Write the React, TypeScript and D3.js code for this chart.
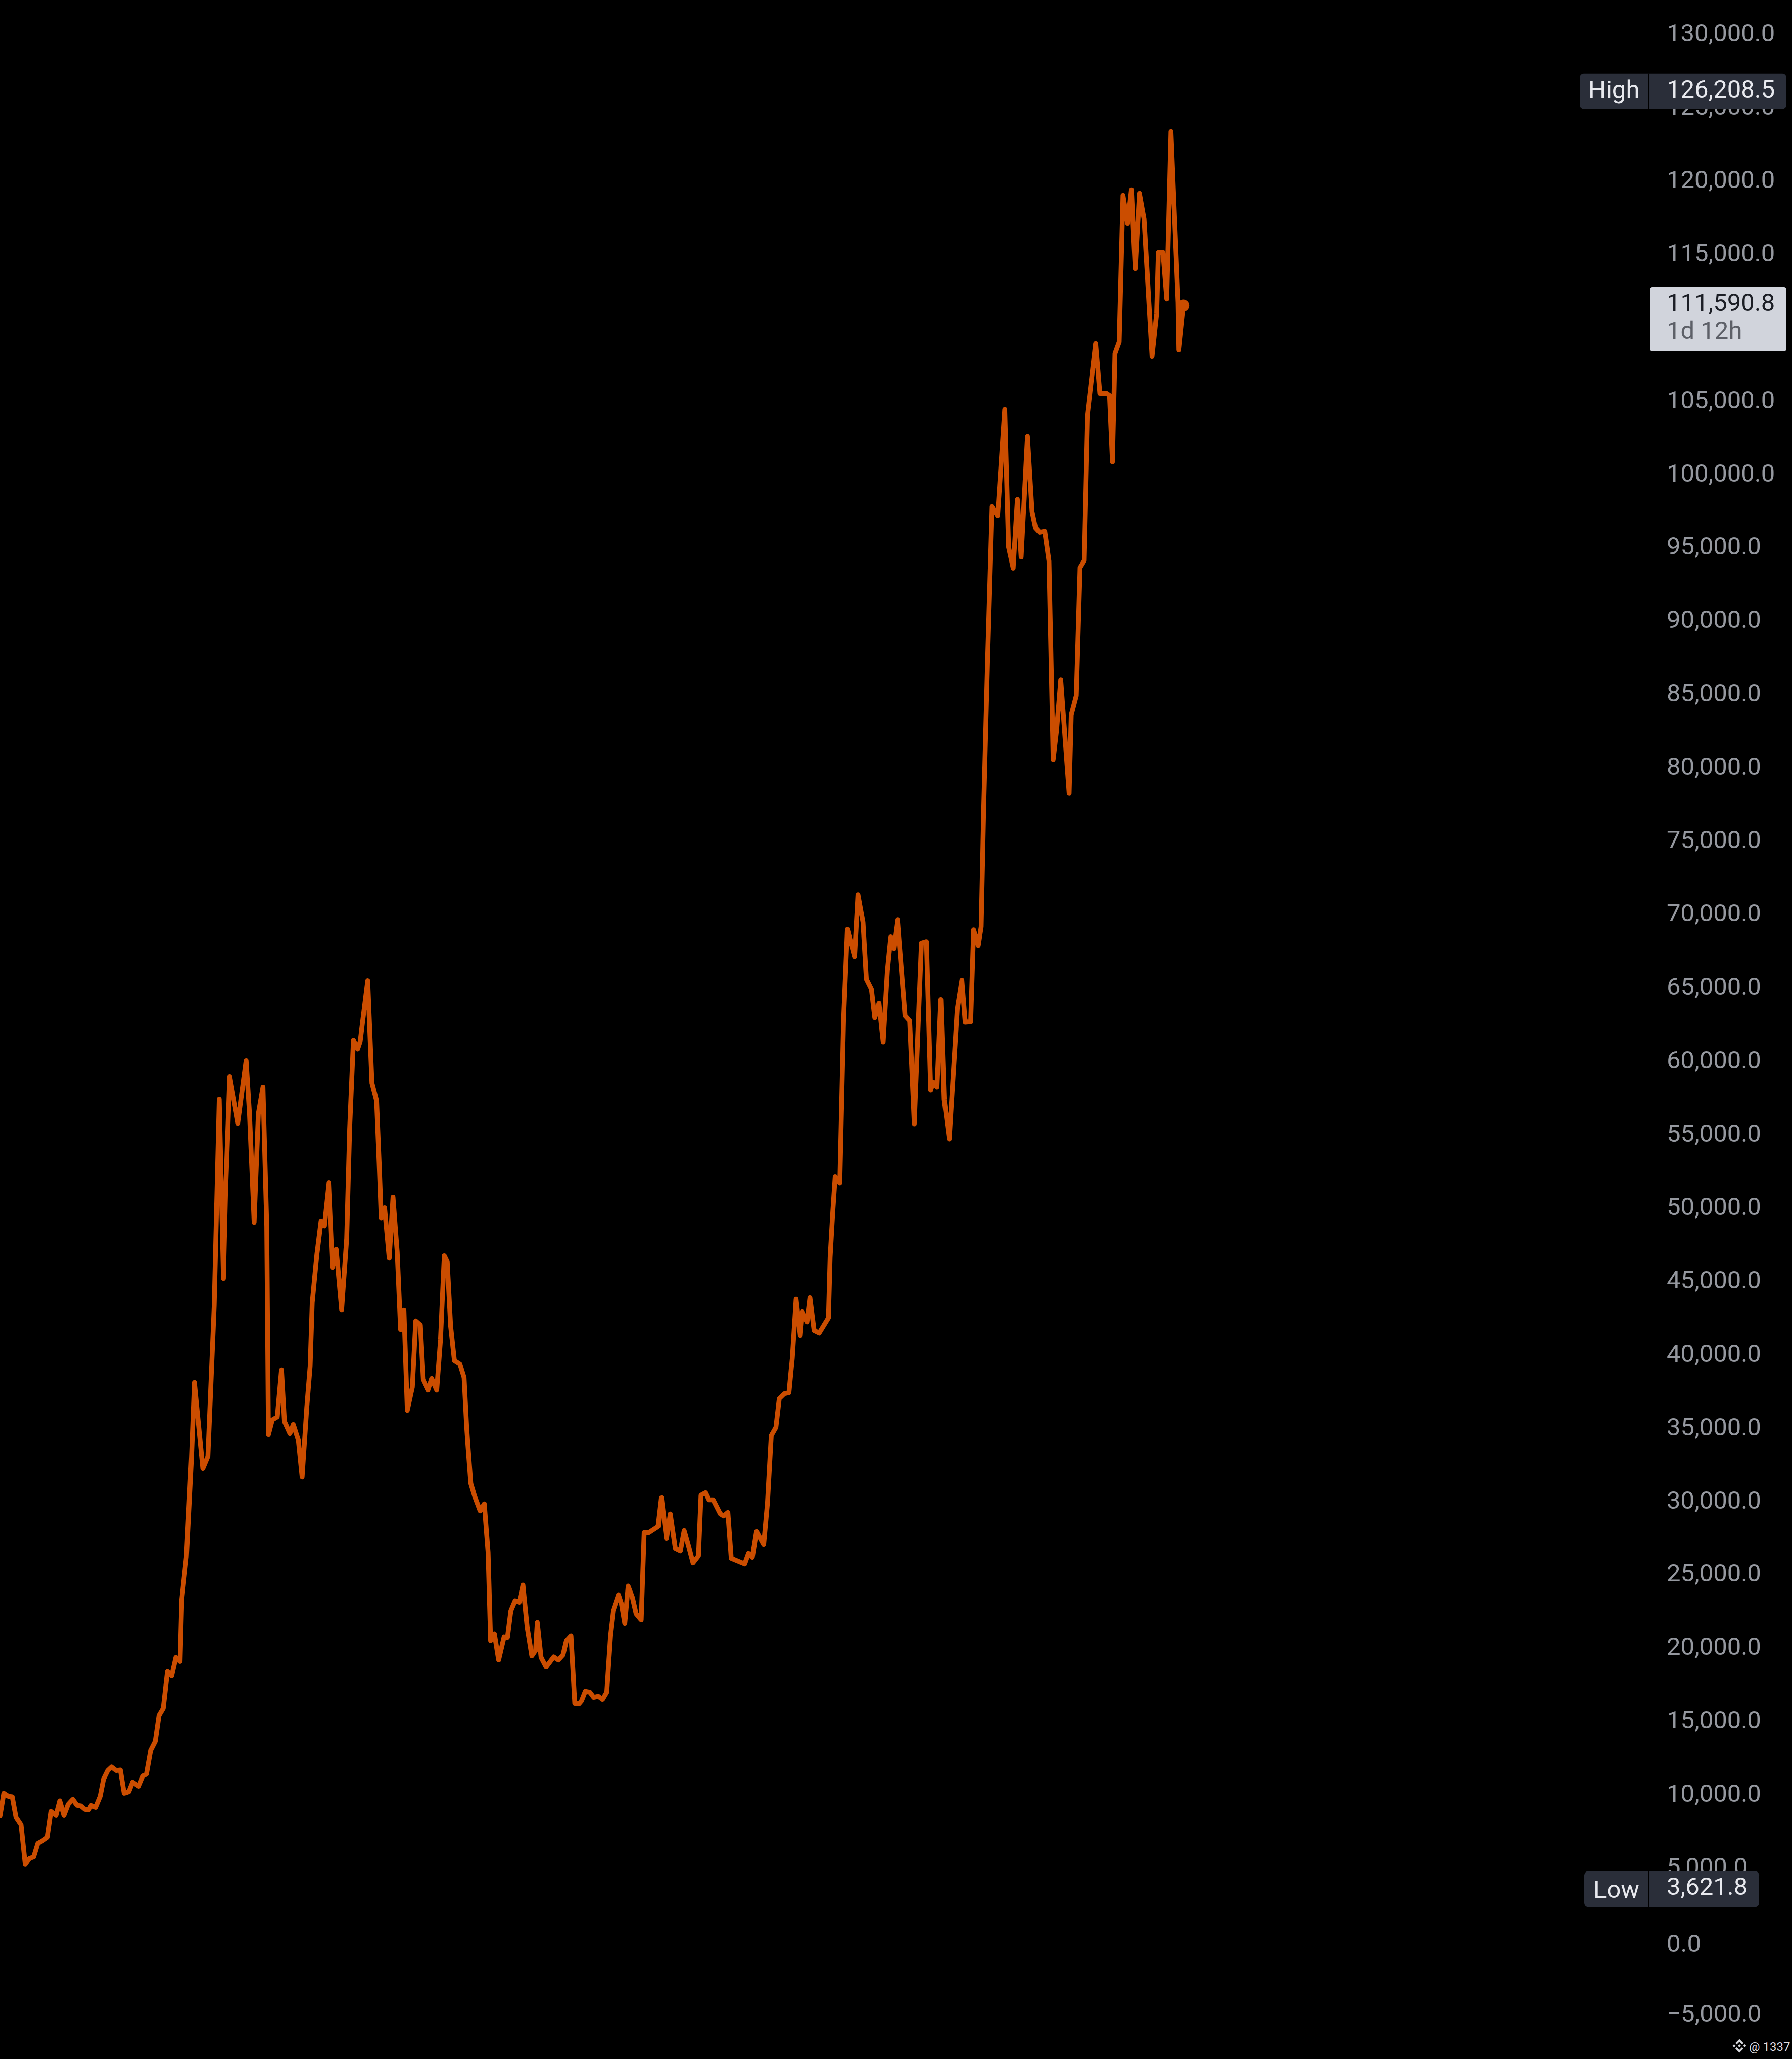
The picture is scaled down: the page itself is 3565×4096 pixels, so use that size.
import React from "react";
import * as d3 from "d3";

const WIDTH = 3565;
const HEIGHT = 4096;

// 110,000.0 sits fully behind the last-price tag in the reference, so it is not listed.
const tickValues = [130000,125000,120000,115000,105000,100000,95000,90000,85000,80000,75000,70000,65000,60000,55000,50000,45000,40000,35000,30000,25000,20000,15000,10000,5000,0,-5000];

const days = [0,9,20,29,38,50,60,70,80,90,101,113,122,134,143,153,163,174,184,193,203,212,218,228,239,247,257,266,277,287,296,307,316,331,341,350,360,371,380,390,400,410,420,430,434,445,457,464,484,496,511,523,533,538,548,568,588,596,607,617,628,637,641,650,662,672,679,692,700,712,721,732,740,745,756,766,774,785,794,803,816,828,835,844,854,860,878,888,899,905,910,918,929,938,948,956,964,972,984,992,1003,1010,1022,1031,1043,1052,1061,1068,1076,1085,1098,1108,1114,1117,1124,1133,1146,1156,1165,1171,1180,1190,1203,1211,1219,1229,1240,1249,1259,1270,1279,1283,1292,1304,1322,1333,1344,1352,1363,1372,1382,1388,1397,1408,1417,1428,1438,1448,1457,1464,1477,1484,1492,1500,1510,1519,1531,1538,1549,1571,1579,1591,1600,1612,1624,1633,1644,1654,1667,1673,1684,1692,1703,1720,1728,1738,1746,1778,1787,1796,1806,1823,1832,1841,1852,1860,1872,1883,1891,1900,1910,1915,1927,1934,1944,1956,1978,1982,1988,1994,2005,2014,2023,2040,2048,2060,2068,2080,2088,2098,2108,2118,2126,2134,2143,2161,2172,2183,2200,2212,2222,2228,2237,2246,2254,2266,2285,2296,2304,2317,2324,2335,2342,2348,2357,2368,2382,2399,2408,2419,2429,2438,2453,2464,2472,2482,2494,2504,2514,2522,2532,2552,2557,2569,2578,2588,2596,2616,2626,2642,2649,2656,2662,2672,2681,2692,2701,2710,2720,2731,2750,2761,2765,2776,2785,2795,2812,2814,2825];

const closes = [8391,9933,9727,9693,8289,7775,5069,5480,5583,6508,6679,6919,8700,8426,9419,8426,9179,9522,9111,9076,8837,8802,9111,8974,9727,10892,11474,11714,11474,11508,9933,10035,10686,10412,11097,11234,12844,13460,15241,15721,18221,17913,19180,18906,23119,26030,32777,37915,32058,32880,43155,57232,45005,50793,58773,55588,59869,56239,48841,56239,58054,48601,34387,35380,35586,38771,35278,34456,35072,34010,31476,36202,39011,43361,46649,48943,48601,51546,45758,47025,42881,47745,55177,61273,60657,61171,65315,58328,57129,52985,49149,49834,46409,50553,46820,41545,42847,36031,37607,42128,41854,38120,37401,38189,37401,40860,46580,46169,41785,39422,39182,38257,34969,33702,31031,30174,29181,29661,26338,20310,20790,19009,20584,20550,22365,23050,22948,24112,21235,19283,19660,21578,19180,18529,19214,19009,19351,20310,20653,16063,16029,16235,16885,16817,16474,16543,16337,16817,20653,22365,23461,22845,21509,24044,23290,22160,21749,27708,27708,28119,30072,27297,28976,26612,26441,27845,26715,25619,26099,30243,30414,29935,29935,28976,28839,29078,25927,25551,26270,25996,27777,26886,29729,34319,34867,36819,37161,37230,39593,43600,41134,42744,42059,43703,41477,41306,42333,46477,49423,51957,51512,62678,68808,66959,71172,69288,65418,64733,62780,63774,61136,66000,68295,67507,69459,62917,62575,55554,67884,67986,57848,58396,58054,64013,57198,54526,63363,65349,62472,62506,68774,67712,68980,77097,86927,97647,96996,104257,94873,93434,98126,94188,102408,97270,96174,95866,95934,93914,80385,82337,85831,78090,83433,84735,93468,93948,103812,108744,105353,105353,105216,100661,108059,108847,118848,116930,119224,113847,118985,117238,107853,110799,114943,114943,111792,123197,111552,108299,111347];

const highValue = 126208.5;
const lowValue = 3621.8;
const lastPrice = 111590.8;
const countdown = "1d 12h";
const credit = "@ 1337";

const LINE = "#cb4d00";
const TICK = "#95989f";
const TAG = "#2a2e39";
const TAG_TEXT = "#e8e9ee";
const FONT_SIZE = 49;

const x = d3.scaleLinear().domain([0, 2830]).range([0, 2358.33]);
const y = d3.scaleLinear().domain([-5000, 130000]).range([4003, 63]);
const fmt = d3.format(",.1f");
const pathD = d3.line<number>().x((_, i) => x(days[i])).y((d) => y(d))(closes) || "";

const labelNudge = (v: number) => (v === 0 ? 7 : 0);
const FONT = "Roboto, sans-serif";

function Diamond({ cx, cy }: { cx: number; cy: number }) {
  return (
    <g transform={`translate(${cx},${cy})`} fill="#d6d7dc">
      <path d="M0,-13.5 L8,-5.5 L5.2,-2.8 L0,-8 L-5.2,-2.8 L-8,-5.5 Z" />
      <path d="M0,13.5 L8,5.5 L5.2,2.8 L0,8 L-5.2,2.8 L-8,5.5 Z" />
      <path d="M-13.5,0 L-10.5,-3 L-7.5,0 L-10.5,3 Z" />
      <path d="M13.5,0 L10.5,-3 L7.5,0 L10.5,3 Z" />
      <path d="M0,-3 L3,0 L0,3 L-3,0 Z" />
    </g>
  );
}

export default function App() {
  const lastX = x(days[days.length - 1]);
  const lastY = y(closes[closes.length - 1]);
  return (
    <svg
      width={WIDTH}
      height={HEIGHT}
      viewBox={`0 0 ${WIDTH} ${HEIGHT}`}
      style={{ position: "absolute", left: 0, top: 0, background: "#000", display: "block" }}
      fontFamily={FONT}
    >
      <rect width={WIDTH} height={HEIGHT} fill="#000" />
      <path d={pathD} fill="none" stroke={LINE} strokeWidth={9.5} strokeLinejoin="round" strokeLinecap="round" />
      <circle cx={lastX} cy={lastY} r={12} fill={LINE} />

      {tickValues.map((v) => (
        <text key={v} x={3316} y={y(v) + labelNudge(v) + 19} fontSize={FONT_SIZE} fill={TICK}>
          {fmt(v)}
        </text>
      ))}

      {/* High tag */}
      <rect x={3143} y={y(highValue) - 27} width={411} height={70} rx={8} fill={TAG} />
      <rect x={3278} y={y(highValue) - 27} width={3} height={70} fill="#000" />
      <text x={3160} y={y(highValue) + 21} fontSize={FONT_SIZE} fill={TAG_TEXT}>High</text>
      <text x={3316} y={y(highValue) + 20} fontSize={FONT_SIZE} fill={TAG_TEXT}>{fmt(highValue)}</text>

      {/* Last price tag */}
      <rect x={3282} y={571} width={272} height={128} rx={5} fill="#d1d4dc" />
      <text x={3316} y={618} fontSize={FONT_SIZE} fill="#1c1f26">{fmt(lastPrice)}</text>
      <text x={3316} y={674} fontSize={FONT_SIZE} fill="#5d6068">{countdown}</text>

      {/* Low tag */}
      <rect x={3152} y={y(lowValue) - 29} width={348} height={71} rx={8} fill={TAG} />
      <rect x={3278} y={y(lowValue) - 29} width={3} height={71} fill="#000" />
      <text x={3170} y={y(lowValue) + 24} fontSize={FONT_SIZE} fill={TAG_TEXT}>Low</text>
      <text x={3316} y={y(lowValue) + 18} fontSize={FONT_SIZE} fill={TAG_TEXT}>{fmt(lowValue)}</text>

      {/* Credit */}
      <Diamond cx={3460} cy={4070} />
      <text x={3480} y={4080} fontSize={24} fill="#dcdde1" fontFamily="Roboto, sans-serif">{credit}</text>
    </svg>
  );
}
